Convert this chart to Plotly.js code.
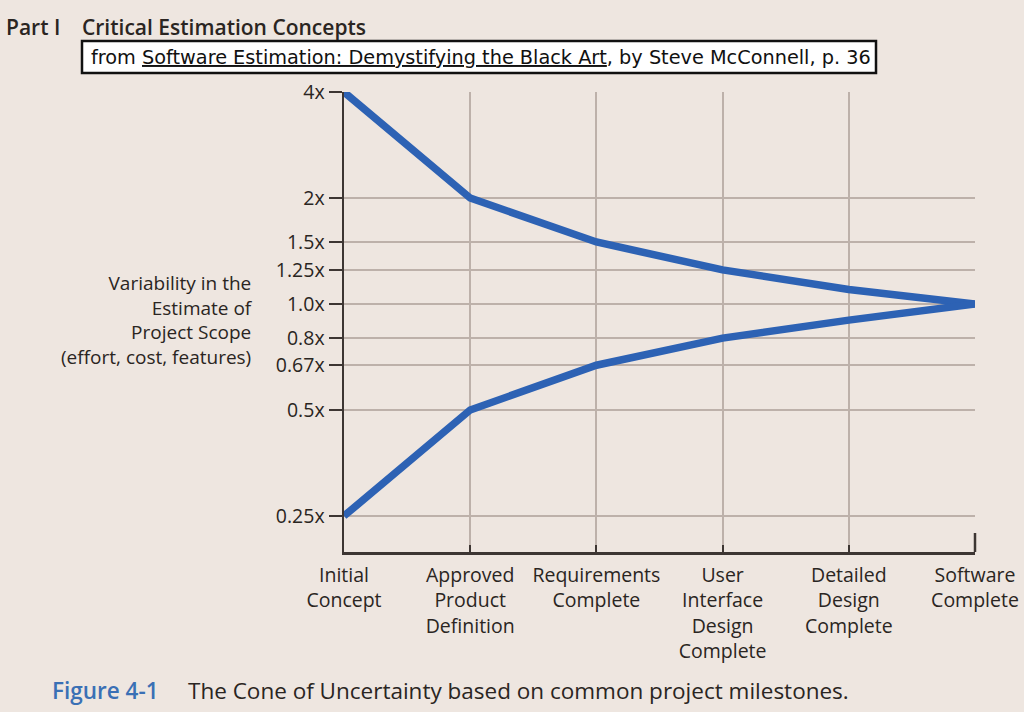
<!DOCTYPE html>
<html>
<head>
<meta charset="utf-8">
<script src="https://cdn.plot.ly/plotly-3.0.1.min.js"></script>
<style>
html,body{margin:0;padding:0;background:#eee6e0;}
#chart{width:1024px;height:712px;}
</style>
</head>
<body>
<div id="chart"></div>
<script>
// ---- data ----
var milestones = [
  "Initial<br>Concept",
  "Approved<br>Product<br>Definition",
  "Requirements<br>Complete",
  "User<br>Interface<br>Design<br>Complete",
  "Detailed<br>Design<br>Complete",
  "Software<br>Complete"
];
var milestoneIndex = [0, 1, 2, 3, 4, 5];
var upperBound = [4, 2, 1.5, 1.25, 1.1, 1.0];
var lowerBound = [0.25, 0.5, 0.67, 0.8, 0.9, 1.0];
var yTickVals = [0.25, 0.5, 0.67, 0.8, 1.0, 1.25, 1.5, 2, 4];
var yTickText = ["0.25x", "0.5x", "0.67x", "0.8x", "1.0x", "1.25x", "1.5x", "2x", "4x"];

// ---- layout helpers ----
var L = 344, R = 975, T = 92, B = 552;
function px(x){ return (x - L) / (R - L); }
function py(y){ return (B - y) / (B - T); }

var FONT = "Open Sans, Noto Sans, sans-serif";
var TXT = "#2a2522";
var BLUE = "#2d62b4";
var GRID = "#bdb1aa";
var AX = "#3d3633";

var traces = [
  {x: milestoneIndex, y: upperBound, mode: "lines", line: {color: BLUE, width: 7.5}, cliponaxis: false, hoverinfo: "skip"},
  {x: milestoneIndex, y: lowerBound, mode: "lines", line: {color: BLUE, width: 7.5}, cliponaxis: false, hoverinfo: "skip"}
];

// log range: 4x sits on the top edge, 0.25x sits 36px above the bottom edge
var yTop = Math.log10(4);
var unit = (516 - T) / (Math.log10(4) - Math.log10(0.25));
var yBot = Math.log10(0.25) - (B - 516) / unit;

var layout = {
  width: 1024, height: 712,
  paper_bgcolor: "#eee6e0", plot_bgcolor: "#eee6e0",
  showlegend: false,
  margin: {l: L, r: 1024 - R, t: T, b: 712 - B, pad: 0},
  font: {family: FONT, color: TXT, size: 18},
  xaxis: {
    type: "linear", range: [0, 5],
    tickmode: "array", tickvals: milestoneIndex, ticktext: milestones,
    showgrid: true, gridcolor: GRID, gridwidth: 2,
    zeroline: false,
    showline: true, linecolor: AX, linewidth: 2.5,
    ticks: "inside", ticklen: 7, tickwidth: 2, tickcolor: AX,
    ticklabelstandoff: 4,
    tickfont: {family: FONT, size: 19.5, color: TXT},
    fixedrange: true
  },
  yaxis: {
    type: "log", range: [yBot, yTop],
    tickmode: "array", tickvals: yTickVals, ticktext: yTickText,
    showgrid: true, gridcolor: GRID, gridwidth: 2,
    zeroline: false,
    showline: true, linecolor: AX, linewidth: 2.5,
    ticks: "outside", ticklen: 13, tickwidth: 2, tickcolor: AX,
    tickfont: {family: FONT, size: 19.5, color: TXT},
    fixedrange: true
  },
  shapes: [
    {type: "rect", xref: "paper", yref: "paper", x0: px(82), x1: px(876), y0: py(41), y1: py(73),
     fillcolor: "#ffffff", line: {color: "#111111", width: 2.5}, layer: "above"},
    {type: "line", xref: "paper", yref: "paper", x0: px(R), x1: px(R), y0: 0, y1: py(533),
     line: {color: AX, width: 2.5}}
  ],
  annotations: [
    {xref: "paper", yref: "paper", x: px(4), y: py(27), xanchor: "left", yanchor: "middle",
     text: "Part I", showarrow: false, font: {family: FONT, size: 21, color: TXT, weight: 600}},
    {xref: "paper", yref: "paper", x: px(80), y: py(27), xanchor: "left", yanchor: "middle",
     text: "Critical Estimation Concepts", showarrow: false, font: {family: FONT, size: 21, color: TXT, weight: 600}},
    {xref: "paper", yref: "paper", x: px(89), y: py(57), xanchor: "left", yanchor: "middle",
     text: "from <span style=\"text-decoration:underline\">Software Estimation: Demystifying the Black Art</span>, by Steve McConnell, p. 36",
     showarrow: false, font: {family: "DejaVu Sans, sans-serif", size: 19.3, color: "#111111"}},
    {xref: "paper", yref: "paper", x: px(255), y: py(320), xanchor: "right", yanchor: "middle", align: "right",
     text: "Variability in the<br>Estimate of<br>Project Scope<br>(effort, cost, features)",
     showarrow: false, font: {family: FONT, size: 19, color: TXT}},
    {xref: "paper", yref: "paper", x: px(50), y: py(690), xanchor: "left", yanchor: "middle",
     text: "Figure 4-1", showarrow: false, font: {family: FONT, size: 22.5, color: "#3a70b5", weight: 600}},
    {xref: "paper", yref: "paper", x: px(186), y: py(690), xanchor: "left", yanchor: "middle",
     text: "The Cone of Uncertainty based on common project milestones.", showarrow: false,
     font: {family: FONT, size: 22.5, color: TXT}}
  ]
};

Plotly.newPlot("chart", traces, layout, {displayModeBar: false, staticPlot: true});
</script>
</body>
</html>
